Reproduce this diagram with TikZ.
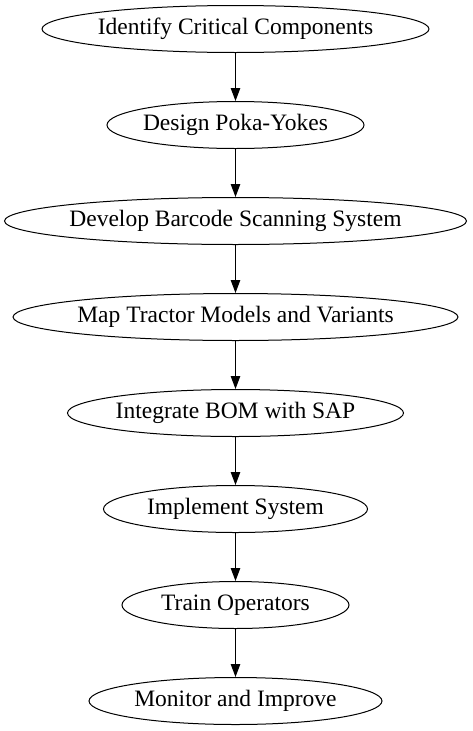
\documentclass[tikz,border=0pt]{standalone}
\usepackage{fontspec}
\setmainfont{Liberation Serif}
\usetikzlibrary{shapes.geometric,arrows.meta}
\tikzset{
  stepnode/.style={ellipse, draw, line width=1pt, inner sep=0pt, minimum height=47pt,
    font=\fontsize{23.5}{28}\selectfont},
  flowarrow/.style={-{Triangle[length=13pt,width=9.5pt]}, line width=1pt}
}
\newcommand{\lbl}[1]{\raisebox{-1.5pt}{\makebox[0pt]{#1}}}
\begin{document}
\begin{tikzpicture}[x=1pt,y=-1pt]
\useasboundingbox (0,0) rectangle (472,731);
\node[stepnode, minimum width=387pt] (n1) at (235.5,29) {\lbl{Identify Critical Components}};
\node[stepnode, minimum width=257pt] (n2) at (235.5,125) {\lbl{Design Poka-Yokes}};
\node[stepnode, minimum width=462pt] (n3) at (235.5,221) {\lbl{Develop Barcode Scanning System}};
\node[stepnode, minimum width=445pt] (n4) at (235.5,317) {\lbl{Map Tractor Models and Variants}};
\node[stepnode, minimum width=336pt] (n5) at (235.5,413) {\lbl{Integrate BOM with SAP}};
\node[stepnode, minimum width=264pt] (n6) at (235.5,509) {\lbl{Implement System}};
\node[stepnode, minimum width=227pt] (n7) at (235.5,605) {\lbl{Train Operators}};
\node[stepnode, minimum width=293pt] (n8) at (235.5,701) {\lbl{Monitor and Improve}};
\foreach \a/\b in {n1/n2,n2/n3,n3/n4,n4/n5,n5/n6,n6/n7,n7/n8}
  \draw[flowarrow] (\a) -- (\b);
\end{tikzpicture}
\end{document}
